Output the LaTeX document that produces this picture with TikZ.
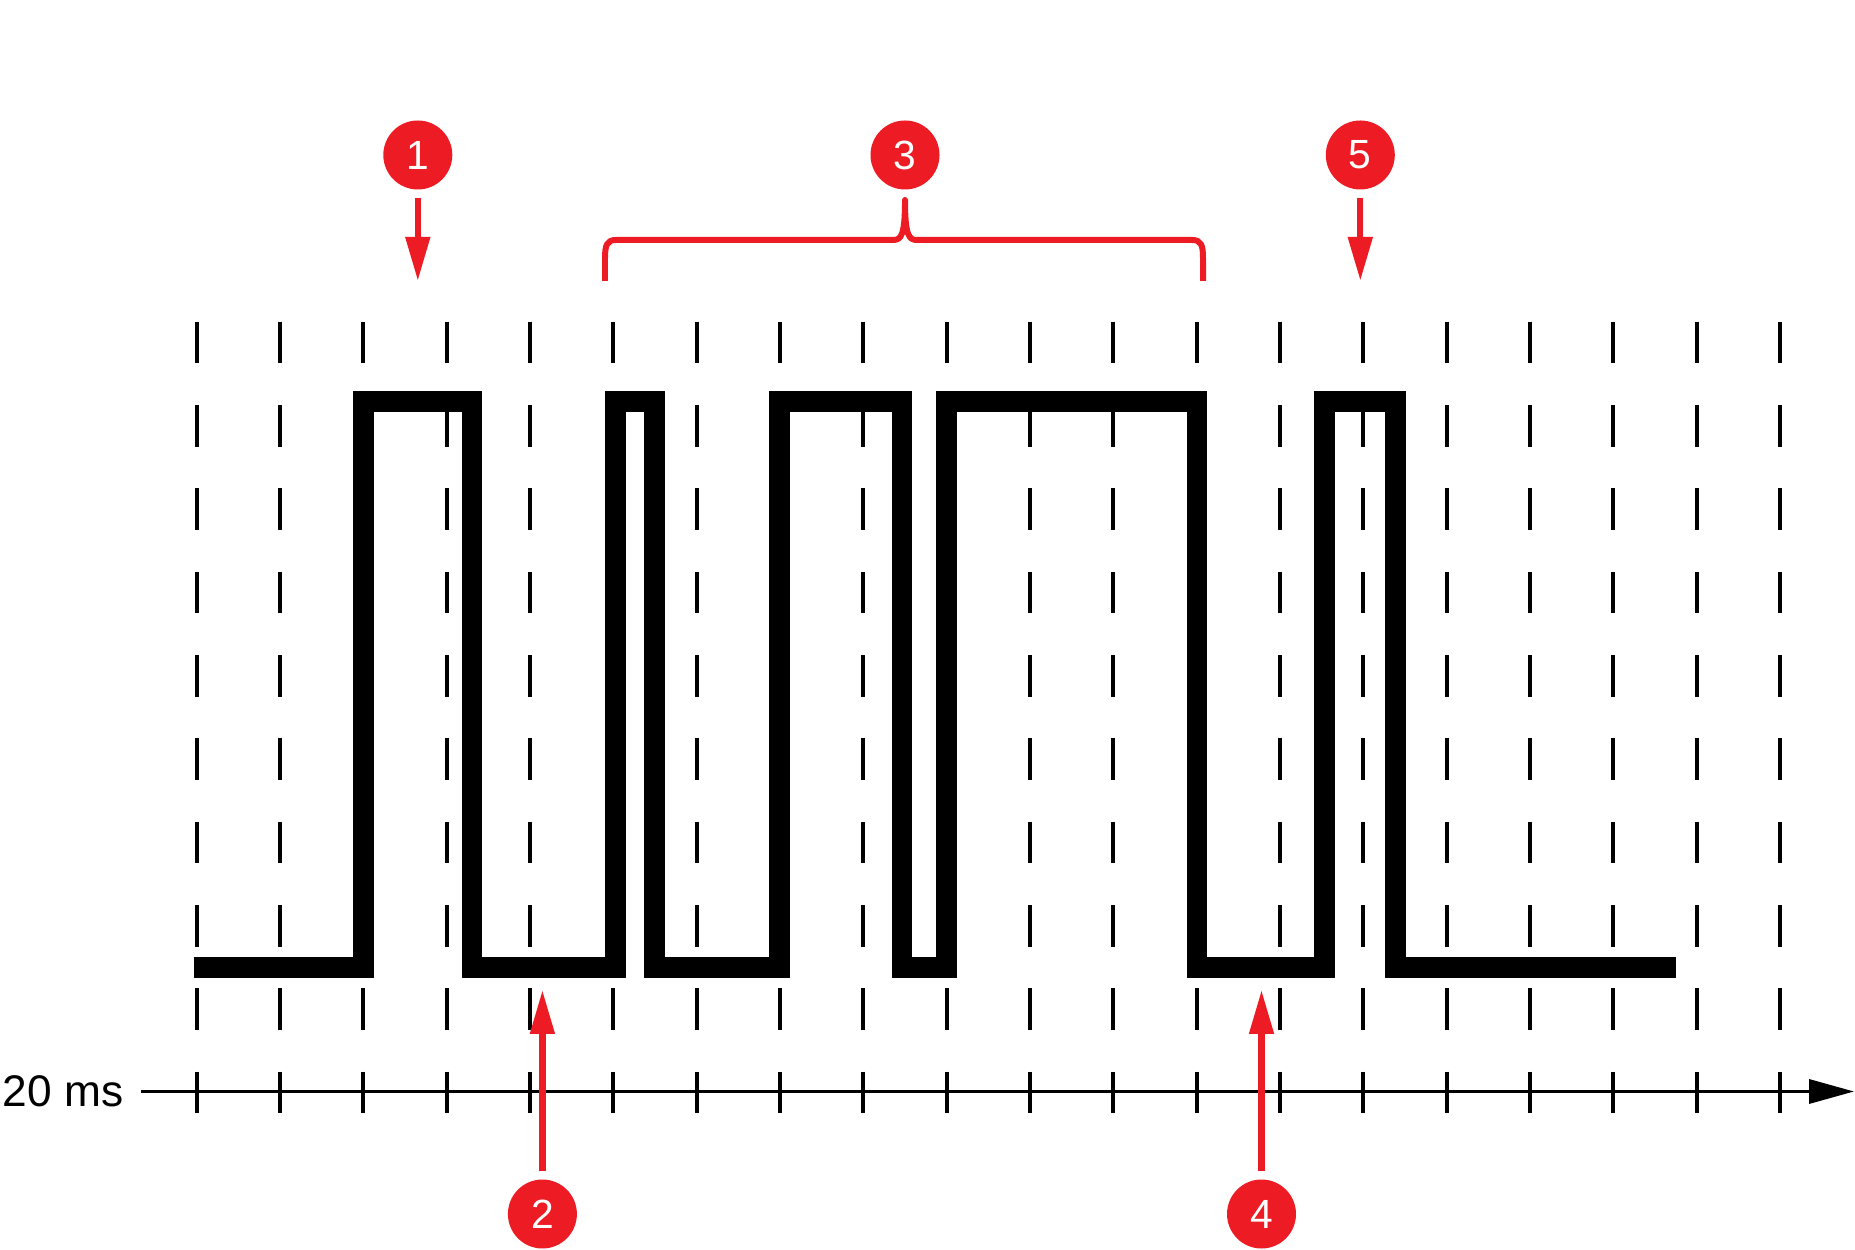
\documentclass[tikz,border=0pt]{standalone}
\usepackage{fontspec}
\setmainfont{Liberation Sans}
\usetikzlibrary{arrows.meta}
\definecolor{mkred}{RGB}{237,28,36}

\begin{document}
\begin{tikzpicture}[x=0.1mm, y=-0.1mm,
    marker/.style={circle, fill=mkred, text=white, minimum size=6.9mm, inner sep=0pt, font=\fontsize{11.6}{12}\selectfont},
    callout/.style={-{Triangle[length=4.4mm, width=2.35mm]}, draw=mkred, line width=1.8pt, shorten <=0.75mm},
    brace/.style={draw=mkred, line width=1.7pt, line join=round},
    gridline/.style={line width=1.1pt, dash pattern=on 4.1667mm off 4.1667mm},
    signal/.style={line width=2.05mm, line join=miter},
    axis/.style={line width=1pt, -{Triangle[length=4.5mm, width=2.4mm]}}
]
\useasboundingbox (0,0) rectangle (1855,1250);

% Time grid
\foreach \i in {0,...,19}
    \draw[gridline] (196.7+83.33*\i, 321.7) -- ++(0,791.6);

% Signal
\draw[signal] (194,967.5) -| (363.7,401.3) -| (472,967.5)
    -| (615.3,401.3) -| (654.3,967.5)
    -| (779.7,401.3) -| (902,967.5)
    -| (946.3,401.3) -| (1197,967.5)
    -| (1324.7,401.3) -| (1395.3,967.5)
    -- (1675.7,967.5);

% Time axis
\node[anchor=base west, font=\fontsize{12.6}{14}\selectfont, inner sep=0pt] (lbl) at (2,1106) {20 ms};
\coordinate (t0) at (141,1091.5);
\coordinate (t1) at (1854,1091.5);
\draw[axis] (t0) -- (t1);

% Callouts
\node[marker] (m1) at (417.8,155)   {1};
\node[marker] (m2) at (542.4,1214)  {2};
\node[marker] (m3) at (905,155)     {3};
\node[marker] (m4) at (1261.5,1214) {4};
\node[marker] (m5) at (1360.3,155)  {5};

\coordinate (p1) at (417.8,281);
\coordinate (p2) at (542.4,990);
\coordinate (p4) at (1261.5,990);
\coordinate (p5) at (1360.3,281);

\draw[callout] (m1) -- (p1);
\draw[callout] (m2) -- (p2);
\draw[callout] (m4) -- (p4);
\draw[callout] (m5) -- (p5);

% Brace under 3
\draw[brace] (605,281) -- (605,258) .. controls (605,245) and (607,240) .. (616,240)
    -- (893,240) .. controls (901,240) and (905,236) .. (905,200)
    .. controls (905,236) and (909,240) .. (917,240)
    -- (1192,240) .. controls (1201,240) and (1203,245) .. (1203,258) -- (1203,281);
\end{tikzpicture}
\end{document}
